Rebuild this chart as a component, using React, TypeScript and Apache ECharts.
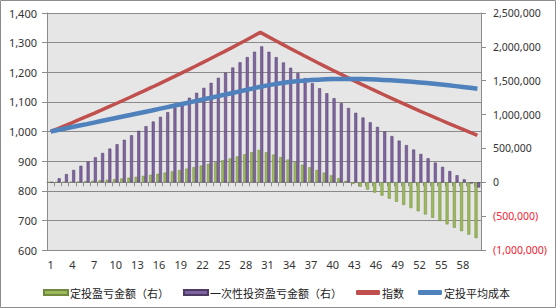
import React, { useEffect, useRef } from "react";
import * as echarts from "echarts";

const categories = ["1","2","3","4","5","6","7","8","9","10","11","12","13","14","15","16","17","18","19","20","21","22","23","24","25","26","27","28","29","30","31","32","33","34","35","36","37","38","39","40","41","42","43","44","45","46","47","48","49","50","51","52","53","54","55","56","57","58","59","60"];

const dcaProfit = [0,1000,3010,6040,10101,15202,21354,28567,36853,46221,56684,68250,80930,94740,109690,125790,143040,161470,181090,201900,223920,247160,271630,297350,324320,352560,382090,412910,445040,478490,443710,408270,372190,335470,298120,260140,221540,182320,142500,102080,61060,19450,-22740,-65510,-108850,-152760,-197230,-242260,-287840,-333960,-380620,-427810,-475530,-523770,-572530,-621800,-671580,-721860,-772640,-823910];

const lumpProfit = [0,60000,120600,181806,243624,306060,369120,432810,497142,562110,627732,694008,760950,828558,896844,965814,1035474,1105824,1176882,1248654,1321140,1394352,1468296,1542978,1618410,1694592,1771536,1849254,1927746,2007024,1926954,1847682,1769208,1691514,1614600,1538454,1463070,1388436,1314552,1241406,1168992,1097304,1026330,956064,886506,817638,749460,681966,615150,548994,483504,418674,354486,290940,228030,165750,104094,43050,-17376,-77202];

const indexValues = [1000,1010,1020.1,1030.3,1040.6,1051.0,1061.5,1072.1,1082.9,1093.7,1104.6,1115.7,1126.8,1138.1,1149.5,1161.0,1172.6,1184.3,1196.1,1208.1,1220.2,1232.4,1244.7,1257.2,1269.7,1282.4,1295.3,1308.2,1321.3,1334.5,1321.2,1307.9,1294.9,1281.9,1269.1,1256.4,1243.8,1231.4,1219.1,1206.9,1194.8,1182.9,1171.1,1159.3,1147.8,1136.3,1124.9,1113.7,1102.5,1091.5,1080.6,1069.8,1059.1,1048.5,1038.0,1027.6,1017.3,1007.2,997.1,987.1];

const avgCost = [1000,1005.0,1010.0,1015.0,1020.0,1025.0,1030.1,1035.2,1040.3,1045.4,1050.5,1055.6,1060.8,1066.0,1071.1,1076.4,1081.6,1086.8,1092.1,1097.3,1102.6,1107.9,1113.2,1118.6,1123.9,1129.3,1134.7,1140.1,1145.5,1150.9,1155.7,1160.0,1163.6,1166.8,1169.5,1171.7,1173.6,1175.0,1176.1,1176.9,1177.3,1177.4,1177.3,1176.9,1176.2,1175.3,1174.2,1172.9,1171.4,1169.6,1167.7,1165.7,1163.5,1161.1,1158.6,1156.0,1153.2,1150.4,1147.4,1144.3];

const seriesNames = ["定投盈亏金额（右）", "一次性投资盈亏金额（右）", "指数", "定投平均成本"];

const NUM_FONT = "'Noto Sans', 'DejaVu Sans', sans-serif";
const CJK_FONT = "'Noto Sans CJK SC', sans-serif";

function fmt(v: number): string {
  return Math.abs(v).toLocaleString("en-US");
}

export default function App() {
  const ref = useRef<HTMLDivElement>(null);
  useEffect(() => {
    if (!ref.current) return;
    const chart = echarts.init(ref.current, undefined, { renderer: "svg" });
    chart.setOption({
      animation: false,
      backgroundColor: "#ffffff",
      graphic: [
        {
          type: "rect",
          shape: { x: 0.5, y: 0.5, width: 555, height: 307 },
          style: { fill: "none", stroke: "#8c8c8c", lineWidth: 1 },
          silent: true,
          z: 100,
        },
      ],
      grid: {
        left: 47,
        right: 75,
        top: 13,
        bottom: 58,
        show: true,
        backgroundColor: "#e6e6e6",
        borderWidth: 0,
      },
      legend: {
        data: [
          { name: seriesNames[0], icon: "rect" },
          { name: seriesNames[1], icon: "rect" },
          { name: seriesNames[2], icon: "roundRect" },
          { name: seriesNames[3], icon: "roundRect" },
        ],
        left: 38,
        top: 282,
        itemWidth: 24,
        itemHeight: 5,
        itemGap: 14,
        textStyle: { fontFamily: CJK_FONT, fontSize: 11, color: "#222", padding: [0, 0, 0, -3] },
      },
      xAxis: {
        type: "category",
        data: categories,
        boundaryGap: true,
        axisLine: { show: true, lineStyle: { color: "#8c8c8c", width: 1 } },
        axisTick: { show: true, interval: 0, length: 4, lineStyle: { color: "#8c8c8c" } },
        axisLabel: { interval: 2, margin: 9, fontFamily: NUM_FONT, fontSize: 11, color: "#333" },
        splitLine: { show: false },
      },
      yAxis: [
        {
          type: "value",
          min: 600,
          max: 1400,
          interval: 100,
          position: "left",
          axisLine: { show: true, lineStyle: { color: "#8c8c8c" } },
          axisTick: { show: true, length: 5, lineStyle: { color: "#8c8c8c" } },
          axisLabel: {
            margin: 10,
            fontFamily: NUM_FONT,
            fontSize: 11,
            color: "#333",
            formatter: (v: number) => v.toLocaleString("en-US"),
          },
          splitLine: { show: true, lineStyle: { color: "#8a8a8a", width: 1 } },
        },
        {
          type: "value",
          min: -1000000,
          max: 2500000,
          interval: 500000,
          position: "right",
          axisLine: { show: true, lineStyle: { color: "#8c8c8c" } },
          axisTick: { show: true, length: 5, lineStyle: { color: "#8c8c8c" } },
          axisLabel: {
            margin: 12,
            fontFamily: NUM_FONT,
            fontSize: 10.5,
            color: "#333",
            formatter: (v: number) => (v < 0 ? "{neg|(" + fmt(v) + ")}" : fmt(v)),
            rich: {
              neg: { color: "#ee2233", fontFamily: NUM_FONT, fontSize: 10.5 },
            },
          },
          splitLine: { show: false },
        },
      ],
      series: [
        {
          name: seriesNames[0],
          type: "bar",
          yAxisIndex: 1,
          data: dcaProfit,
          barWidth: 3,
          barGap: "-10%",
          itemStyle: { color: "#9bbb59", borderColor: "#71893f", borderWidth: 0.5 },
        },
        {
          name: seriesNames[1],
          type: "bar",
          yAxisIndex: 1,
          data: lumpProfit,
          barWidth: 3,
          barGap: "-10%",
          itemStyle: { color: "#8064a2", borderColor: "#4d3b63", borderWidth: 0.5 },
        },
        {
          name: seriesNames[2],
          type: "line",
          yAxisIndex: 0,
          data: indexValues,
          showSymbol: false,
          symbol: "none",
          lineStyle: { color: "#c0504d", width: 3.5 },
          itemStyle: { color: "#c0504d" },
        },
        {
          name: seriesNames[3],
          type: "line",
          yAxisIndex: 0,
          data: avgCost,
          showSymbol: false,
          symbol: "none",
          lineStyle: { color: "#4f81bd", width: 4.5 },
          itemStyle: { color: "#4f81bd" },
        },
      ],
    });
    return () => chart.dispose();
  }, []);
  return (
    <div
      ref={ref}
      style={{ position: "fixed", left: 0, top: 0, width: 556, height: 308 }}
    />
  );
}
